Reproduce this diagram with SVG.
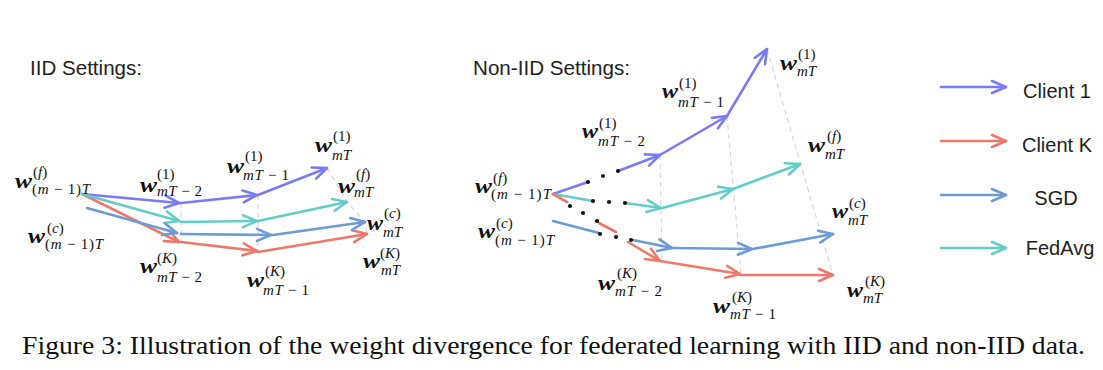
<svg xmlns="http://www.w3.org/2000/svg" width="1103" height="370" viewBox="0 0 1103 370">
<style>
.c1{stroke:#7a7cf7}.ck{stroke:#f0786a}.sg{stroke:#6c9bd6}.fa{stroke:#63cdca}
.ln{fill:none;stroke-width:2.6;stroke-linecap:round}
.dash{fill:none;stroke:#d4d4d4;stroke-width:1.1;stroke-dasharray:5 4}
.dot{fill:#111}
.w{font-family:"Liberation Serif","Times New Roman",serif;font-weight:bold;font-style:italic;font-size:22px;fill:#111}
.s{font-family:"Liberation Serif","Times New Roman",serif;font-style:italic;font-size:15px;fill:#111}
.u{font-style:normal}
.h{font-family:"Liberation Sans",Arial,sans-serif;font-size:20px;fill:#222}
.hd{font-family:"Liberation Sans",Arial,sans-serif;font-size:20.8px;fill:#222}
.cap{font-family:"Liberation Serif","Times New Roman",serif;font-size:26px;fill:#111}
</style>
<defs>
<marker id="m1" viewBox="-16 -9 18 18" markerWidth="18" markerHeight="18" refX="0" refY="0" orient="auto" markerUnits="userSpaceOnUse"><path d="M-14,-6 L0,0 L-14,6" fill="none" stroke="#7a7cf7" stroke-width="2.6" stroke-linecap="round" stroke-linejoin="round"/></marker>
<marker id="mk" viewBox="-16 -9 18 18" markerWidth="18" markerHeight="18" refX="0" refY="0" orient="auto" markerUnits="userSpaceOnUse"><path d="M-14,-6 L0,0 L-14,6" fill="none" stroke="#f0786a" stroke-width="2.6" stroke-linecap="round" stroke-linejoin="round"/></marker>
<marker id="ms" viewBox="-16 -9 18 18" markerWidth="18" markerHeight="18" refX="0" refY="0" orient="auto" markerUnits="userSpaceOnUse"><path d="M-14,-6 L0,0 L-14,6" fill="none" stroke="#6c9bd6" stroke-width="2.6" stroke-linecap="round" stroke-linejoin="round"/></marker>
<marker id="mf" viewBox="-16 -9 18 18" markerWidth="18" markerHeight="18" refX="0" refY="0" orient="auto" markerUnits="userSpaceOnUse"><path d="M-14,-6 L0,0 L-14,6" fill="none" stroke="#63cdca" stroke-width="2.6" stroke-linecap="round" stroke-linejoin="round"/></marker>
</defs>
<rect width="1103" height="370" fill="#fff"/>

<text class="hd" x="30" y="75" textLength="112" lengthAdjust="spacingAndGlyphs">IID Settings:</text>
<text class="hd" x="473" y="75" textLength="157" lengthAdjust="spacingAndGlyphs">Non-IID Settings:</text>

<g id="connectors">
  <path class="dash" d="M181,203 L181,242"/>
  <path class="dash" d="M258,195 L258,252"/>
  <path class="dash" d="M327,168 L347,202 L365,222 L367,234"/>
  <line class="ln c1" x1="82" y1="194" x2="179" y2="203" marker-end="url(#m1)"/>
  <line class="ln c1" x1="181" y1="203" x2="257" y2="195" marker-end="url(#m1)"/>
  <line class="ln c1" x1="258" y1="195" x2="327" y2="168" marker-end="url(#m1)"/>
  <line class="ln ck" x1="82" y1="194" x2="179" y2="242" marker-end="url(#mk)"/>
  <line class="ln ck" x1="181" y1="242" x2="257" y2="251" marker-end="url(#mk)"/>
  <line class="ln ck" x1="258" y1="252" x2="367" y2="234" marker-end="url(#mk)"/>
  <line class="ln fa" x1="82" y1="194" x2="179" y2="221" marker-end="url(#mf)"/>
  <line class="ln fa" x1="181" y1="222" x2="257" y2="221" marker-end="url(#mf)"/>
  <line class="ln fa" x1="258" y1="221" x2="347" y2="202" marker-end="url(#mf)"/>
  <line class="ln sg" x1="87" y1="208" x2="177" y2="233" marker-end="url(#ms)"/>
  <line class="ln sg" x1="181" y1="234" x2="271" y2="235" marker-end="url(#ms)"/>
  <line class="ln sg" x1="273" y1="235" x2="365" y2="222" marker-end="url(#ms)"/>

  <path class="dash" d="M660,155 L662,261"/>
  <path class="dash" d="M727,116 L741,274"/>
  <path class="dash" d="M767,49 L833,275"/>
  <line class="ln c1" x1="553" y1="194" x2="588" y2="182"/>
  <line class="ln c1" x1="618" y1="171" x2="660" y2="155" marker-end="url(#m1)"/>
  <line class="ln c1" x1="660" y1="155" x2="727" y2="116" marker-end="url(#m1)"/>
  <line class="ln c1" x1="727" y1="116" x2="767" y2="49" marker-end="url(#m1)"/>
  <line class="ln fa" x1="553" y1="194" x2="593" y2="201"/>
  <line class="ln fa" x1="625" y1="203" x2="661" y2="208" marker-end="url(#mf)"/>
  <line class="ln fa" x1="662" y1="208" x2="733" y2="189" marker-end="url(#mf)"/>
  <line class="ln fa" x1="733" y1="189" x2="800" y2="164" marker-end="url(#mf)"/>
  <line class="ln ck" x1="553" y1="194" x2="567" y2="202"/>
  <line class="ln ck" x1="599" y1="223" x2="616" y2="232"/>
  <line class="ln ck" x1="628" y1="242" x2="660" y2="261" marker-end="url(#mk)"/>
  <line class="ln ck" x1="660" y1="261" x2="740" y2="274" marker-end="url(#mk)"/>
  <line class="ln ck" x1="740" y1="275" x2="833" y2="275" marker-end="url(#mk)"/>
  <line class="ln sg" x1="553" y1="221" x2="599" y2="233"/>
  <line class="ln sg" x1="633" y1="240" x2="672" y2="248" marker-end="url(#ms)"/>
  <line class="ln sg" x1="672" y1="248" x2="752" y2="249" marker-end="url(#ms)"/>
  <line class="ln sg" x1="753" y1="249" x2="833" y2="234" marker-end="url(#ms)"/>
  <circle class="dot" cx="588" cy="182" r="2.1"/>
  <circle class="dot" cx="603" cy="176" r="2.1"/>
  <circle class="dot" cx="618" cy="171" r="2.1"/>
  <circle class="dot" cx="593" cy="201" r="2.1"/>
  <circle class="dot" cx="609" cy="202" r="2.1"/>
  <circle class="dot" cx="625" cy="203" r="2.1"/>
  <circle class="dot" cx="570" cy="206" r="2.1"/>
  <circle class="dot" cx="583" cy="213" r="2.1"/>
  <circle class="dot" cx="597" cy="221" r="2.1"/>
  <circle class="dot" cx="600" cy="234" r="2.1"/>
  <circle class="dot" cx="616" cy="237" r="2.1"/>
  <circle class="dot" cx="631" cy="240" r="2.1"/>
</g>

<!-- IID labels -->
<g id="iid-f-prev"><text class="w" x="15" y="188" textLength="17" lengthAdjust="spacingAndGlyphs">w</text><text class="s" x="33" y="177"><tspan class="u">(</tspan>f<tspan class="u">)</tspan></text><text class="s" x="32" y="194" textLength="58" lengthAdjust="spacing"><tspan class="u">(</tspan>m<tspan class="u"> − 1)</tspan>T</text></g>
<g id="iid-c-prev"><text class="w" x="28" y="243" textLength="17" lengthAdjust="spacingAndGlyphs">w</text><text class="s" x="47" y="233"><tspan class="u">(</tspan>c<tspan class="u">)</tspan></text><text class="s" x="45" y="249" textLength="58" lengthAdjust="spacing"><tspan class="u">(</tspan>m<tspan class="u"> − 1)</tspan>T</text></g>
<g id="iid-1-mT2"><text class="w" x="140" y="192" textLength="17" lengthAdjust="spacingAndGlyphs">w</text><text class="s u" x="157" y="179">(1)</text><text class="s" x="157" y="196" textLength="45" lengthAdjust="spacing">mT<tspan class="u"> − 2</tspan></text></g>
<g id="iid-1-mT1"><text class="w" x="227" y="173" textLength="17" lengthAdjust="spacingAndGlyphs">w</text><text class="s u" x="245" y="161">(1)</text><text class="s" x="243" y="180" textLength="46" lengthAdjust="spacing">mT<tspan class="u"> − 1</tspan></text></g>
<g id="iid-1-mT"><text class="w" x="315" y="152" textLength="17" lengthAdjust="spacingAndGlyphs">w</text><text class="s u" x="333" y="141">(1)</text><text class="s" x="332" y="160">mT</text></g>
<g id="iid-f-mT"><text class="w" x="338" y="193" textLength="17" lengthAdjust="spacingAndGlyphs">w</text><text class="s" x="356" y="179"><tspan class="u">(</tspan>f<tspan class="u">)</tspan></text><text class="s" x="354" y="197">mT</text></g>
<g id="iid-c-mT"><text class="w" x="367" y="230" textLength="16" lengthAdjust="spacingAndGlyphs">w</text><text class="s" x="384" y="218"><tspan class="u">(</tspan>c<tspan class="u">)</tspan></text><text class="s" x="383" y="237">mT</text></g>
<g id="iid-K-mT"><text class="w" x="363" y="268" textLength="17" lengthAdjust="spacingAndGlyphs">w</text><text class="s" x="380" y="258"><tspan class="u">(</tspan>K<tspan class="u">)</tspan></text><text class="s" x="381" y="275">mT</text></g>
<g id="iid-K-mT2"><text class="w" x="140" y="273" textLength="17" lengthAdjust="spacingAndGlyphs">w</text><text class="s" x="157" y="263"><tspan class="u">(</tspan>K<tspan class="u">)</tspan></text><text class="s" x="157" y="282" textLength="45" lengthAdjust="spacing">mT<tspan class="u"> − 2</tspan></text></g>
<g id="iid-K-mT1"><text class="w" x="247" y="287" textLength="17" lengthAdjust="spacingAndGlyphs">w</text><text class="s" x="265" y="276"><tspan class="u">(</tspan>K<tspan class="u">)</tspan></text><text class="s" x="263" y="295" textLength="46" lengthAdjust="spacing">mT<tspan class="u"> − 1</tspan></text></g>

<!-- Non-IID labels -->
<g id="non-1-mT"><text class="w" x="780" y="70" textLength="17" lengthAdjust="spacingAndGlyphs">w</text><text class="s u" x="798" y="59">(1)</text><text class="s" x="797" y="76">mT</text></g>
<g id="non-1-mT1"><text class="w" x="662" y="98" textLength="16" lengthAdjust="spacingAndGlyphs">w</text><text class="s u" x="679" y="88">(1)</text><text class="s" x="678" y="107" textLength="46" lengthAdjust="spacing">mT<tspan class="u"> − 1</tspan></text></g>
<g id="non-1-mT2"><text class="w" x="582" y="138" textLength="16" lengthAdjust="spacingAndGlyphs">w</text><text class="s u" x="599" y="128">(1)</text><text class="s" x="598" y="146" textLength="47" lengthAdjust="spacing">mT<tspan class="u"> − 2</tspan></text></g>
<g id="non-f-mT"><text class="w" x="808" y="152" textLength="17" lengthAdjust="spacingAndGlyphs">w</text><text class="s" x="827" y="141"><tspan class="u">(</tspan>f<tspan class="u">)</tspan></text><text class="s" x="825" y="159">mT</text></g>
<g id="non-f-prev"><text class="w" x="475" y="193" textLength="17" lengthAdjust="spacingAndGlyphs">w</text><text class="s" x="493" y="183"><tspan class="u">(</tspan>f<tspan class="u">)</tspan></text><text class="s" x="491" y="199" textLength="60" lengthAdjust="spacing"><tspan class="u">(</tspan>m<tspan class="u"> − 1)</tspan>T</text></g>
<g id="non-c-prev"><text class="w" x="478" y="238" textLength="17" lengthAdjust="spacingAndGlyphs">w</text><text class="s" x="496" y="228"><tspan class="u">(</tspan>c<tspan class="u">)</tspan></text><text class="s" x="495" y="245" textLength="59" lengthAdjust="spacing"><tspan class="u">(</tspan>m<tspan class="u"> − 1)</tspan>T</text></g>
<g id="non-c-mT"><text class="w" x="832" y="218" textLength="16" lengthAdjust="spacingAndGlyphs">w</text><text class="s" x="849" y="208"><tspan class="u">(</tspan>c<tspan class="u">)</tspan></text><text class="s" x="848" y="225">mT</text></g>
<g id="non-K-mT2"><text class="w" x="598" y="290" textLength="17" lengthAdjust="spacingAndGlyphs">w</text><text class="s" x="617" y="278"><tspan class="u">(</tspan>K<tspan class="u">)</tspan></text><text class="s" x="615" y="296" textLength="47" lengthAdjust="spacing">mT<tspan class="u"> − 2</tspan></text></g>
<g id="non-K-mT1"><text class="w" x="713" y="313" textLength="17" lengthAdjust="spacingAndGlyphs">w</text><text class="s" x="732" y="302"><tspan class="u">(</tspan>K<tspan class="u">)</tspan></text><text class="s" x="730" y="319" textLength="46" lengthAdjust="spacing">mT<tspan class="u"> − 1</tspan></text></g>
<g id="non-K-mT"><text class="w" x="847" y="297" textLength="16" lengthAdjust="spacingAndGlyphs">w</text><text class="s" x="865" y="286"><tspan class="u">(</tspan>K<tspan class="u">)</tspan></text><text class="s" x="863" y="303">mT</text></g>

<!-- Legend -->
<g id="legend-client1"><line class="ln c1" x1="941" y1="87" x2="1006" y2="87" marker-end="url(#m1)"/><text class="h" x="1057" y="98" text-anchor="middle">Client 1</text></g>
<g id="legend-clientK"><line class="ln ck" x1="941" y1="141" x2="1006" y2="141" marker-end="url(#mk)"/><text class="h" x="1057" y="152" text-anchor="middle">Client K</text></g>
<g id="legend-sgd"><line class="ln sg" x1="941" y1="195" x2="1006" y2="195" marker-end="url(#ms)"/><text class="h" x="1056" y="205" text-anchor="middle">SGD</text></g>
<g id="legend-fedavg"><line class="ln fa" x1="941" y1="248" x2="1006" y2="248" marker-end="url(#mf)"/><text class="h" x="1060" y="255" text-anchor="middle">FedAvg</text></g>

<text class="cap" x="22" y="354" textLength="1063" lengthAdjust="spacingAndGlyphs">Figure 3: Illustration of the weight divergence for federated learning with IID and non-IID data.</text>
</svg>
